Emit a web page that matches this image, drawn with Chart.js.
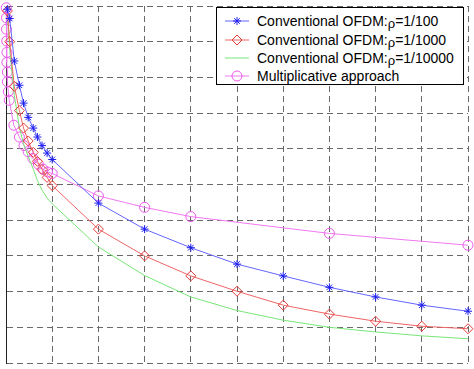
<!DOCTYPE html>
<html>
<head>
<meta charset="utf-8">
<script src="https://cdn.jsdelivr.net/npm/chart.js@4/dist/chart.umd.min.js"></script>
<style>
    html, body { margin: 0; padding: 0; background: #fff; }
    #wrap { position: relative; width: 474px; height: 369px; }
    #legend {
        position: absolute; left: 216px; top: 7px; width: 248px; height: 78px;
        box-sizing: border-box; border: 1px solid #000; background: #fff;
        font-family: "Liberation Sans", Arial, sans-serif; font-size: 14px; color: #000;
    }
    .row { position: absolute; left: 0; height: 18px; width: 100%; }
    .row svg { position: absolute; left: 6px; top: 0; }
    .row span { position: absolute; left: 40px; top: 1px; line-height: 16px; white-space: nowrap; }
    .row span i { font-style: normal; font-size: 13px; position: relative; top: 2px; }
</style>
</head>
<body>
<div id="wrap">
    <canvas id="chart" width="474" height="369"></canvas>
    <div id="legend"></div>
</div>
<script>
    // x positions (grid units, 10 divisions across the plot)
    var xConv = [0.03, 0.08, 0.18, 0.29, 0.38, 0.48, 0.59, 0.68, 0.78, 0.89, 1, 2, 3, 4, 5, 6, 7, 8, 9, 10];
    var xMult = [0.005, 0.01, 0.01, 0.015, 0.02, 0.02, 0.03, 0.03, 0.05, 0.07, 0.17, 0.29, 0.39, 0.48, 0.58, 0.7, 0.8, 0.9, 1, 2, 3, 4, 7, 10];

    var yRho100 = [9.91, 9.65, 8.46, 7.78, 7.28, 6.88, 6.58, 6.33, 6.09, 5.88, 5.70, 4.48, 3.75, 3.23, 2.77, 2.44, 2.12, 1.85, 1.62, 1.45];
    var yRho1000 = [9.86, 9.0, 7.75, 7.07, 6.58, 6.22, 5.90, 5.65, 5.42, 5.20, 4.97, 3.75, 3.0, 2.44, 2.01, 1.62, 1.37, 1.17, 1.03, 0.96];
    var yRho10000 = [9.78, 8.78, 7.5, 6.6, 6.14, 5.79, 5.43, 5.11, 4.84, 4.62, 4.46, 3.25, 2.45, 1.85, 1.47, 1.2, 1.0, 0.87, 0.76, 0.68];
    var yMult = [9.95, 9.67, 9.35, 9.02, 8.7, 8.42, 8.15, 7.88, 7.6, 7.36, 6.66, 6.33, 6.09, 5.92, 5.73, 5.57, 5.43, 5.35, 5.31, 4.68, 4.36, 4.10, 3.63, 3.30];

    var seriesNames = [
        "Conventional OFDM:\u03c1=1/100",
        "Conventional OFDM:\u03c1=1/1000",
        "Conventional OFDM:\u03c1=1/10000",
        "Multiplicative approach"
    ];

    function pairs(xs, ys) {
        var pts = [];
        for (var i = 0; i < ys.length; i++) {
            pts.push({x: xs[i], y: ys[i]});
        }
        return pts;
    }

    var series = [
        {line: 'rgb(100,100,255)', mark: 'rgb(30,30,240)', style: 'star', radius: 4, data: pairs(xConv, yRho100)},
        {line: 'rgb(240,100,100)', mark: 'rgb(225,60,60)', style: 'rectRot', radius: 5, data: pairs(xConv, yRho1000)},
        {line: 'rgb(120,230,120)', mark: 'rgb(120,230,120)', style: false, radius: 0, data: pairs(xConv, yRho10000)},
        {line: 'rgb(240,120,240)', mark: 'rgb(235,90,235)', style: 'circle', radius: 5, data: pairs(xMult, yMult)}
    ];

    var datasets = series.map(function (s, i) {
        return {
            label: seriesNames[i],
            data: s.data,
            borderColor: s.line,
            borderWidth: 1,
            tension: 0,
            pointStyle: s.style,
            pointRadius: s.radius,
            pointBorderColor: s.mark,
            pointBackgroundColor: 'rgba(0,0,0,0)',
            pointBorderWidth: 1,
            clip: 6
        };
    });

    var gridOpts = {color: 'rgb(105,105,105)', lineWidth: 1, drawTicks: false};

    new Chart(document.getElementById('chart'), {
        type: 'line',
        data: {datasets: datasets},
        options: {
            responsive: false,
            animation: false,
            layout: {padding: {left: 5, right: 5, top: 0, bottom: 1}},
            plugins: {legend: {display: false}, tooltip: {enabled: false}},
            scales: {
                x: {
                    type: 'linear', min: 0, max: 10,
                    ticks: {display: false, stepSize: 1},
                    grid: gridOpts,
                    border: {display: false, dash: [6, 4]}
                },
                y: {
                    type: 'linear', min: 0, max: 10,
                    ticks: {display: false, stepSize: 1},
                    grid: gridOpts,
                    border: {display: true, color: '#222', width: 1, dash: [6, 4]}
                }
            }
        }
    });

    // legend drawn as html, samples as small svg
    function sampleSvg(s) {
        var svg = '<svg width="28" height="18" xmlns="http://www.w3.org/2000/svg">';
        svg += '<line x1="2" y1="9" x2="26" y2="9" stroke="' + s.line + '" stroke-width="1"/>';
        if (s.style === 'star') {
            svg += '<path d="M14 5V13M10 9H18M11.2 6.2L16.8 11.8M16.8 6.2L11.2 11.8" stroke="' + s.mark + '" stroke-width="1"/>';
        } else if (s.style === 'rectRot') {
            svg += '<path d="M14 4L19 9L14 14L9 9Z" fill="none" stroke="' + s.mark + '" stroke-width="1"/>';
        } else if (s.style === 'circle') {
            svg += '<circle cx="14" cy="9" r="5" fill="none" stroke="' + s.mark + '" stroke-width="1"/>';
        }
        return svg + '</svg>';
    }

    var legend = document.getElementById('legend');
    var rowTops = [4, 22.5, 41, 59];
    series.forEach(function (s, i) {
        var row = document.createElement('div');
        row.className = 'row';
        row.style.top = rowTops[i] + 'px';
        var span = document.createElement('span');
        var parts = seriesNames[i].split('\u03c1');
        span.appendChild(document.createTextNode(parts[0]));
        if (parts.length > 1) {
            var rho = document.createElement('i');
            rho.textContent = '\u03c1';
            span.appendChild(rho);
            span.appendChild(document.createTextNode(parts[1]));
        }
        row.innerHTML = sampleSvg(s);
        row.appendChild(span);
        legend.appendChild(row);
    });
</script>
</body>
</html>
